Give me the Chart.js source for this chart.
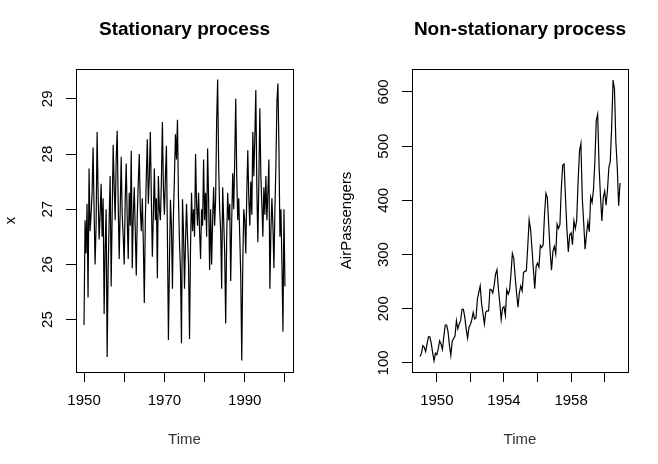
<!DOCTYPE html>
<html>
<head>
<meta charset="utf-8">
<script src="https://cdn.jsdelivr.net/npm/chart.js@4.4.1/dist/chart.umd.min.js"></script>
<style>
  html, body { margin: 0; padding: 0; background: #fff; }
  #wrap { width: 658px; height: 464px; position: relative; }
  .panel { position: absolute; top: 0; width: 329px; height: 464px; }
</style>
</head>
<body>
<div id="wrap">
  <div class="panel" style="left:0"><canvas id="left" width="329" height="464"></canvas></div>
  <div class="panel" style="left:329px"><canvas id="right" width="329" height="464"></canvas></div>
</div>
<script>
// stationary series, quarterly from 1950
const statStart = 1950;
const statFreq = 4;
const statValues = [
  24.9, 26.8, 26.2, 27.1, 25.4, 27.74, 26.6, 26.9, 27.3, 28.12,
  27.0, 26.0, 26.7, 28.4, 27.3, 26.45, 26.9, 27.46, 26.5, 27.2,
  25.1, 26.3, 27.0, 24.32, 25.9, 26.8, 27.6, 25.6, 26.9, 28.17,
  27.4, 26.8, 27.9, 28.42, 27.1, 26.1, 27.0, 27.95, 26.9, 26.5,
  26.0, 27.2, 27.83, 26.8, 26.1, 27.3, 26.7, 28.06, 25.93, 26.9,
  27.4, 26.6, 25.8, 26.9, 27.5, 28.0, 27.0, 26.6, 27.2, 26.4,
  25.3, 26.8, 27.6, 28.27, 27.1, 27.6, 28.4, 27.2, 26.14, 26.9,
  27.74, 26.8, 27.2, 25.75, 27.6, 27.0, 26.8, 27.5, 28.58, 27.4,
  26.9, 27.6, 28.15, 26.5, 24.63, 26.0, 27.17, 26.7, 25.56, 26.9,
  27.6, 28.36, 27.9, 28.62, 27.2, 26.4, 25.9, 24.57, 27.18, 26.6,
  25.56, 26.4, 27.1, 26.5, 26.0, 24.65, 26.3, 27.3, 26.6, 27.0,
  26.5, 28.0, 27.1, 26.7, 27.3, 26.6, 26.1, 27.0, 26.7, 27.9,
  26.8, 27.3, 26.5, 28.1, 27.2, 25.9, 27.0, 26.0, 26.8, 27.4,
  26.7, 27.2, 28.6, 29.35, 27.8, 27.0, 26.6, 25.56, 27.4, 26.8,
  26.2, 24.93, 26.5, 27.3, 26.8, 27.1, 25.7, 26.8, 27.65, 27.0,
  27.9, 29.0, 27.6, 26.8, 27.2, 26.5, 25.8, 24.26, 26.0, 27.0,
  26.8, 26.2, 27.3, 28.07, 27.2, 26.7, 27.5, 26.9, 28.4, 27.6,
  28.3, 29.16, 27.4, 26.4, 27.5, 28.83, 27.6, 27.1, 26.5, 27.4,
  26.9, 27.6, 26.8, 27.3, 27.9, 25.56, 26.6, 27.2, 26.7, 25.93,
  27.0, 27.8, 28.95, 29.28, 28.1, 26.5, 27.0, 26.0, 24.78, 27.0,
  25.6
];

// AirPassengers, monthly from 1949
const airStart = 1949;
const airFreq = 12;
const airValues = [
  112, 118, 132, 129, 121, 135, 148, 148, 136, 119, 104, 118,
  115, 126, 141, 135, 125, 149, 170, 170, 158, 133, 114, 140,
  145, 150, 178, 163, 172, 178, 199, 199, 184, 162, 146, 166,
  171, 180, 193, 181, 183, 218, 230, 242, 209, 191, 172, 194,
  196, 196, 236, 235, 229, 243, 264, 272, 237, 211, 180, 201,
  204, 188, 235, 227, 234, 264, 302, 293, 259, 229, 203, 229,
  242, 233, 267, 269, 270, 315, 364, 347, 312, 274, 237, 278,
  284, 277, 317, 313, 318, 374, 413, 405, 355, 306, 271, 306,
  315, 301, 356, 348, 355, 422, 465, 467, 404, 347, 305, 336,
  340, 318, 362, 348, 363, 435, 491, 505, 404, 359, 310, 337,
  360, 342, 406, 396, 420, 472, 548, 559, 463, 407, 362, 405,
  417, 391, 419, 461, 472, 535, 622, 606, 508, 461, 390, 432
];

const leftXTicks = [1950, 1960, 1970, 1980, 1990, 2000];
const leftXLabels = ['1950', '', '1970', '', '1990', ''];
const leftYTicks = [25, 26, 27, 28, 29];
const rightXTicks = [1950, 1952, 1954, 1956, 1958, 1960];
const rightXLabels = ['1950', '', '1954', '', '1958', ''];
const rightYTicks = [100, 200, 300, 400, 500, 600];

const FONT = "'Liberation Sans', Arial, Helvetica, sans-serif";
Chart.defaults.font.family = FONT;
Chart.defaults.color = '#000';

function toPoints(values, start, freq) {
  return values.map((v, i) => ({ x: start + i / freq, y: v }));
}

// box around the plot region, like R's default
const framePlugin = {
  id: 'frame',
  afterDraw(chart) {
    const a = chart.chartArea;
    const ctx = chart.ctx;
    ctx.save();
    ctx.strokeStyle = '#000';
    ctx.lineWidth = 1;
    ctx.strokeRect(Math.round(a.left) + 0.5, Math.round(a.top) + 0.5,
      Math.round(a.right - a.left), Math.round(a.bottom - a.top));
    ctx.restore();
  }
};

function makePanel(id, cfg) {
  const grid = { drawOnChartArea: false, drawTicks: true, tickLength: 10, color: '#000', tickColor: '#000', lineWidth: 1 };
  return new Chart(document.getElementById(id), {
    type: 'line',
    data: {
      datasets: [{
        data: toPoints(cfg.values, cfg.start, cfg.freq),
        borderColor: '#000',
        borderWidth: 1.2,
        pointRadius: 0,
        tension: 0,
        fill: false
      }]
    },
    options: {
      responsive: false,
      animation: false,
      layout: { padding: { left: cfg.padLeft, right: cfg.padRight, top: 0, bottom: 0 } },
      plugins: {
        legend: { display: false },
        tooltip: { enabled: false },
        title: {
          display: true,
          text: cfg.title,
          fullSize: false,
          color: '#000',
          font: { size: 19, weight: 'bold', family: FONT },
          padding: { top: 18, bottom: 28 }
        }
      },
      scales: {
        x: {
          type: 'linear',
          min: cfg.xMin,
          max: cfg.xMax,
          afterBuildTicks: s => { s.ticks = cfg.xTicks.map(v => ({ value: v })); },
          afterFit: s => { s.height = 92; },
          grid: grid,
          border: { display: false },
          ticks: {
            autoSkip: false,
            maxRotation: 0,
            minRotation: 0,
            padding: 10,
            color: '#000',
            font: { size: 15 },
            callback: (v, i) => cfg.xLabels[i]
          },
          title: {
            display: true,
            text: 'Time',
            color: '#333',
            font: { size: 15 },
            padding: { top: 0, bottom: 15 }
          }
        },
        y: {
          type: 'linear',
          min: cfg.yMin,
          max: cfg.yMax,
          afterBuildTicks: s => { s.ticks = cfg.yTicks.map(v => ({ value: v })); },
          afterFit: s => { s.width = 76; },
          grid: grid,
          border: { display: false },
          ticks: {
            autoSkip: false,
            minRotation: 90,
            maxRotation: 90,
            crossAlign: 'center',
            padding: cfg.yTickPad,
            color: '#000',
            font: { size: 15 }
          },
          title: {
            display: true,
            text: cfg.yTitle,
            color: '#000',
            font: { size: 15 },
            padding: { top: 2, bottom: 0 }
          }
        }
      }
    },
    plugins: [framePlugin]
  });
}

makePanel('left', {
  title: 'Stationary process',
  yTitle: 'x',
  values: statValues, start: statStart, freq: statFreq,
  xMin: 1948, xMax: 2002, yMin: 24.05, yMax: 29.545,
  xTicks: leftXTicks, xLabels: leftXLabels, yTicks: leftYTicks,
  padLeft: 0, padRight: 36, yTickPad: 10
});

makePanel('right', {
  title: 'Non-stationary process',
  yTitle: 'AirPassengers',
  values: airValues, start: airStart, freq: airFreq,
  xMin: 1948.52, xMax: 1961.39, yMin: 83.3, yMax: 642.7,
  xTicks: rightXTicks, xLabels: rightXLabels, yTicks: rightYTicks,
  padLeft: 7, padRight: 30, yTickPad: 6
});
</script>
</body>
</html>
